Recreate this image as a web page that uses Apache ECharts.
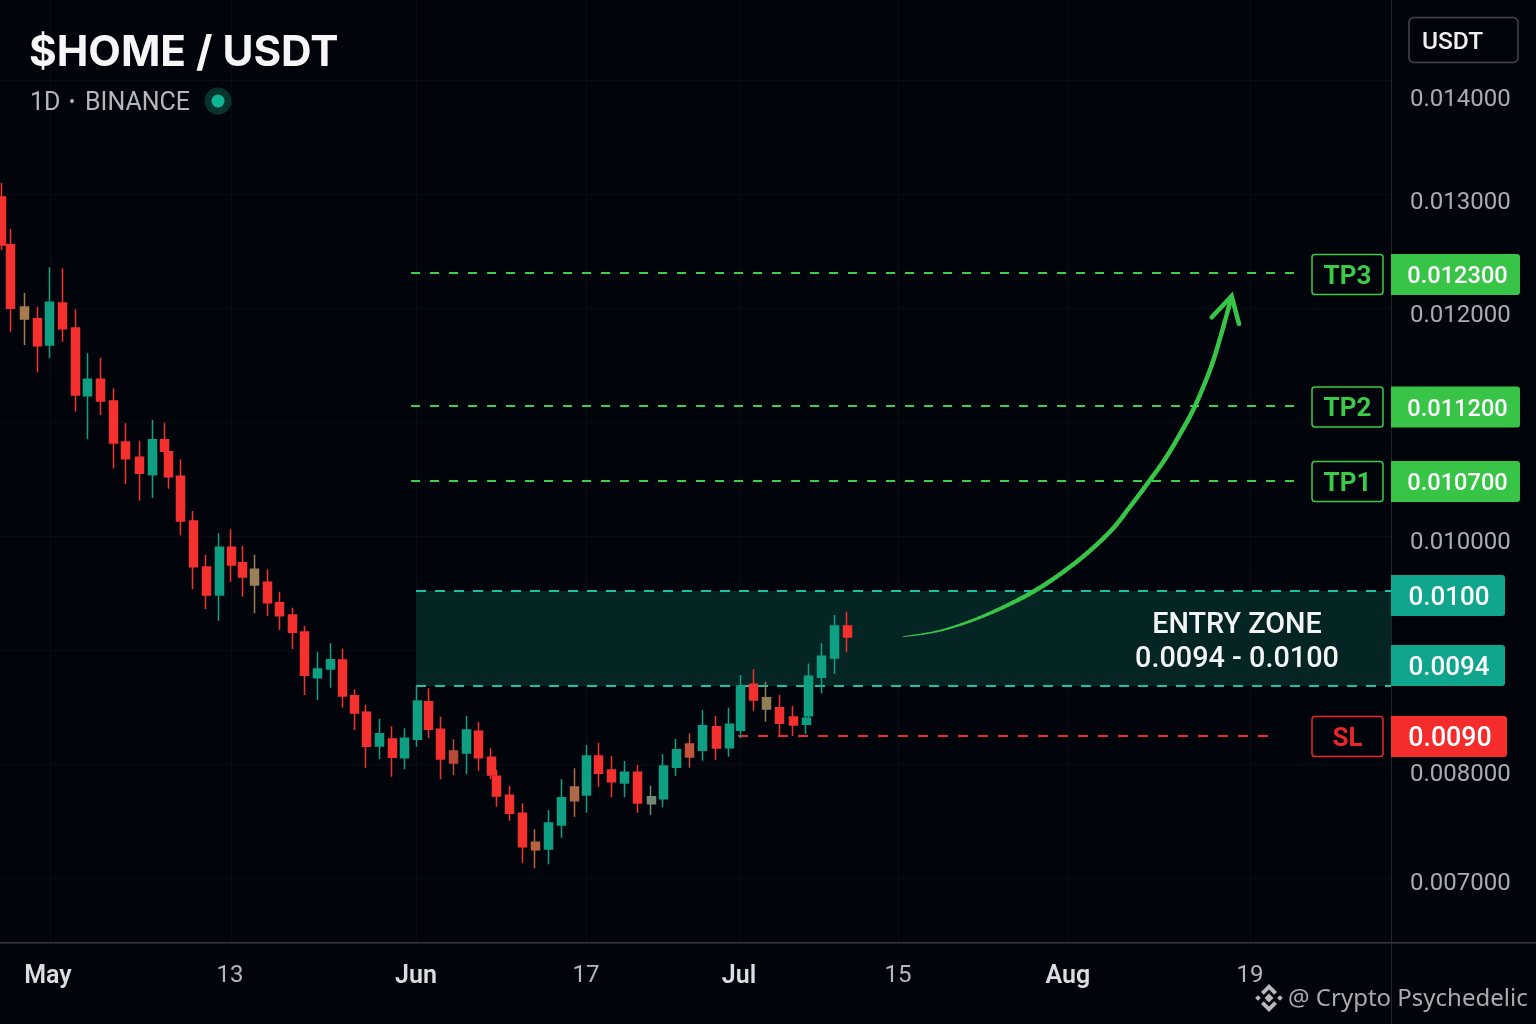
<!DOCTYPE html>
<html>
<head>
<meta charset="utf-8">
<style>html,body{margin:0;padding:0;background:#02040b;overflow:hidden}#c{width:1536px;height:1024px}</style>
<script src="https://cdn.jsdelivr.net/npm/echarts@6/dist/echarts.min.js"></script>
</head>
<body>
<div id="c"></div>
<script>
// Prices are in millionths of a USDT; x is a session number along the time axis.
const sessions = [0.12,0.84,1.91,2.93,3.92,4.92,5.91,6.90,7.90,8.89,9.88,10.93,11.98,12.94,13.23,14.17,15.14,16.16,17.18,18.12,19.04,20.00,21.00,21.96,22.96,23.90,24.89,25.91,26.88,27.82,28.71,29.75,30.75,31.74,32.71,33.62,34.56,35.55,36.57,37.55,38.53,38.98,39.98,41.00,41.98,43.04,44.05,45.07,46.02,46.98,47.98,49.02,50.02,51.06,52.02,53.04,54.06,55.11,56.16,57.18,58.09,59.08,60.08,61.15,62.20,63.22,63.43,64.47,65.49,66.45];
const opens = [12974,12555,12009,11906,11676,12044,11825,11231,11375,11184,10825,10691,10538,10845,10740,10524,10132,9728,9483,9901,9766,9708,9594,9415,9307,9158,8757,8834,8912,8599,8454,8158,8219,8055,8217,8547,8305,8114,8097,8287,8059,7892,7726,7568,7313,7255,7465,7798,7728,8070,7948,7834,7927,7714,7696,7971,8176,8120,8327,8143,8296,8699,8582,8494,8412,8348,8424,8761,8930,9211];
const closes = [12553,11998,11904,11670,12050,11819,11237,11375,11184,10816,10678,10550,10845,10743,10520,10132,9731,9483,9901,9746,9641,9570,9415,9301,9155,8778,8834,8915,8597,8448,8155,8266,8059,8226,8553,8305,8044,8009,8298,8055,7904,7719,7568,7275,7248,7483,7705,7678,8070,7919,7845,7927,7658,7652,7983,8126,8062,8336,8141,8348,8684,8562,8483,8357,8342,8401,8770,8945,9211,9114];
const lows = [12509,11792,11676,11436,11559,11705,11091,10848,11062,10594,10456,10310,10334,10719,10415,10006,9533,9360,9257,9599,9468,9322,9298,9176,9009,8605,8562,8669,8494,8298,7968,8041,7889,7954,8152,8226,7866,7904,7910,7942,7866,7626,7503,7135,7085,7120,7354,7538,7573,7801,7708,7708,7573,7553,7620,7895,7968,8029,8035,8064,8226,8468,8371,8255,8246,8263,8404,8620,8790,8980];
const highs = [13097,12693,12132,12012,12357,12348,11989,11603,11564,11296,10989,10836,11018,10994,10746,10673,10219,9834,10024,10059,9913,9836,9708,9512,9371,9213,8985,9059,9012,8655,8520,8398,8331,8313,8684,8664,8415,8217,8421,8369,8138,7948,7807,7655,7427,7597,7866,7962,8167,8187,8070,8027,7991,7810,8088,8219,8269,8474,8421,8494,8781,8831,8722,8605,8509,8430,8883,9059,9307,9336];
const mutedCandles = [2,21,37,44,47,53,56,62];

const yGridValues = [7000,8000,9000,10000,11000,12000,13000,14000];
const yTickLabels = ['0.014000','0.013000','0.012000','0.010000','0.008000','0.007000'];
const yTickAnchors = [13825,12922,11930,9939,7904,6948];
const xTickLabels = ['May','13','Jun','17','Jul','15','Aug','19'];
const xTickAnchors = [3.76,18.04,32.63,45.96,57.96,70.43,83.76,98.04];
const xGridValues = [3.92,18.12,32.68,45.96,58.09,70.43,83.76,98.04];

const tpNames = ['TP3','TP2','TP1'];
const tpTexts = ['0.012300','0.011200','0.010700'];
const tpLines = [12307,11141,10483];
const tpTags = [12294,11132,10478];
const entryTexts = ['0.0100','0.0094'];
const entryLines = [9518,8684];
const entryTags = [9478,8864];
const slName = 'SL';
const slText = '0.0090';
const slLine = 8246;
const slTag = 8241;
const entryCaption = ['ENTRY ZONE','0.0094 - 0.0100'];
const entryCaptionPrices = [9237,8939];
const entryCaptionSession = 97.02;
const axisEnd = 109.1;
const tpSpan = [32.24,101.96];
const slSpan = [57.88,99.84];
const entrySpan = [32.63,109.1];

const arrowSessions = [70.85,73.73,77.12,81.04,84.45,87.06,88.63,90.20,91.50,92.81,93.73,94.90,95.69,96.53];
const arrowPrices = [9117,9170,9298,9512,9775,10038,10257,10491,10696,10945,11141,11456,11734,12070];
const arrowHeadSessions = [95.04,96.60,97.18];
const arrowHeadPrices = [11919,12105,11860];

const BG='#02040b', RED='#f4312e', GREEN='#0f9f83', LIME='#38c447', LINE_LIME='#3ccf49', TEAL='#18c2a3', FONT='Roboto';
const P = v => v/1e6;
const muted = {2:'#a87a50',21:'#9a7f58',37:'#b74a3a',44:'#b8623f',47:'#ae6a46',53:'#6f8a70',56:'#c4503f',62:'#8f7f58'};

const candleData = sessions.map((s,i)=>{
  const item = {value:[s,P(opens[i]),P(closes[i]),P(lows[i]),P(highs[i])]};
  if (mutedCandles.includes(i)) {
    const c = muted[i];
    item.itemStyle = {color:c,color0:c,borderColor:c,borderColor0:c};
  }
  return item;
});

function hLine(name,span,val,color,width,dash){
  return {type:'line',name,silent:true,symbol:'none',z:3,animation:false,
    data:[[span[0],P(val)],[span[1],P(val)]],
    lineStyle:{color,width,type:dash}};
}

// The curved arrow: a spline through the read points, drawn with a growing stroke.
function renderArrow(params,api){
  if (params.dataIndex!==0) return null;
  const pts = arrowSessions.map((s,i)=>api.coord([s,P(arrowPrices[i])]));
  const kids = [];
  let prev = pts[0], travelled = 0;
  for (let i=0;i<pts.length-1;i++){
    const p0=pts[Math.max(i-1,0)],p1=pts[i],p2=pts[i+1],p3=pts[Math.min(i+2,pts.length-1)];
    for (let k=1;k<=10;k++){
      const t=k/10,t2=t*t,t3=t2*t;
      const q=[0,1].map(a=>0.5*(2*p1[a]+(p2[a]-p0[a])*t+(2*p0[a]-5*p1[a]+4*p2[a]-p3[a])*t2+(3*p1[a]-p0[a]-3*p2[a]+p3[a])*t3));
      travelled += Math.hypot(q[0]-prev[0],q[1]-prev[1]);
      const width = Math.min(4.4,0.8+travelled/38);
      kids.push({type:'line',shape:{x1:prev[0],y1:prev[1],x2:q[0],y2:q[1]},
        style:{stroke:LIME,lineWidth:width,lineCap:'round',fill:null}});
      prev=q;
    }
  }
  return {type:'group',children:kids};
}

const tagRows = [];
tpNames.forEach((n,i)=>tagRows.push({value:[axisEnd,P(tpTags[i])],label:n,text:tpTexts[i],color:LIME,w:129,tc:1457.5,fs:23.6}));
entryTexts.forEach((t,i)=>tagRows.push({value:[axisEnd,P(entryTags[i])],label:null,text:t,color:'#0fa68d',w:114,tc:1449,fs:26}));
tagRows.push({value:[axisEnd,P(slTag)],label:slName,text:slText,color:'#f42c2c',w:116,tc:1450,box:'#e8262c',fs:26.8});

function renderTag(params,api){
  const row = tagRows[params.dataIndex];
  const c = api.coord([api.value(0),api.value(1)]);
  const kids = [
    {type:'rect',shape:{x:c[0],y:c[1]-20.5,width:row.w,height:41,r:[0,3,3,0]},style:{fill:row.color}},
    {type:'text',x:row.tc,y:c[1]+3,style:{text:row.text,align:'center',verticalAlign:'middle',fill:'#ffffff',font:'500 '+row.fs+'px '+FONT}}
  ];
  if (row.label) {
    const b = row.box||'#3bcb48';
    kids.push({type:'rect',shape:{x:c[0]-79,y:c[1]-20,width:71,height:40,r:3},style:{fill:BG,stroke:b,lineWidth:1.5}});
    kids.push({type:'text',x:c[0]-43.5,y:c[1]+2.5,style:{text:row.label,align:'center',verticalAlign:'middle',fill:row.box||'#3bcb48',font:'700 26px '+FONT}});
  }
  return {type:'group',children:kids};
}

// Binance mark: five small polygons around one centre.
const logoShapes = [
  [[0,-4.5],[4.5,0],[0,4.5],[-4.5,0]],
  [[-11,-2.8],[-8.2,0],[-11,2.8],[-13.8,0]],
  [[11,-2.8],[13.8,0],[11,2.8],[8.2,0]],
  [[0,-14],[8,-6],[5.2,-3.2],[0,-8.4],[-5.2,-3.2],[-8,-6]],
  [[0,14],[8,6],[5.2,3.2],[0,8.4],[-5.2,3.2],[-8,6]]
];

const chart = echarts.init(document.getElementById('c'),null,{renderer:'canvas',width:1536,height:1024});
chart.setOption({
  animation:false,
  backgroundColor:BG,
  grid:{left:0,right:145,top:0,bottom:82,show:false},
  xAxis:{type:'value',min:0,max:axisEnd,
    axisLine:{show:false},
    axisTick:{show:false,customValues:xGridValues},
    splitLine:{show:true,lineStyle:{color:'#090c12',width:1}},
    axisLabel:{customValues:xTickAnchors,margin:22,hideOverlap:false,
      formatter:v=>{
        const t=xTickLabels[xTickAnchors.indexOf(v)];
        return /^[A-Z]/.test(t)?`{m|${t}}`:`{d|${t}}`;
      },
      rich:{
        m:{fontFamily:FONT,fontSize:25,fontWeight:600,color:'#dcdde0'},
        d:{fontFamily:FONT,fontSize:24,fontWeight:400,color:'#b4b6ba'}
      }}
  },
  yAxis:{type:'value',position:'right',min:0.006439,max:0.014702,scale:true,
    axisLine:{show:false},
    axisTick:{show:false,customValues:yGridValues.map(P)},
    splitLine:{show:true,lineStyle:{color:'#090c12',width:1}},
    axisLabel:{customValues:yTickAnchors.map(P),align:'left',margin:19,hideOverlap:false,
      fontFamily:FONT,fontSize:24,color:'#a9acb1',
      formatter:v=>yTickLabels[yTickAnchors.map(P).indexOf(v)]}
  },
  series:[
    {type:'line',name:'entry zone',silent:true,symbol:'none',z:1,animation:false,
      data:[],
      markArea:{silent:true,itemStyle:{color:'#052524'},
        data:[[{xAxis:entrySpan[0],yAxis:P(entryLines[0])},{xAxis:entrySpan[1],yAxis:P(entryLines[1])}]]}},
    hLine('entry top',entrySpan,entryLines[0],TEAL,2,[10,9]),
    hLine('entry bottom',entrySpan,entryLines[1],TEAL,2,[10,9]),
    hLine('TP3',tpSpan,tpLines[0],LINE_LIME,2,[9,10]),
    hLine('TP2',tpSpan,tpLines[1],LINE_LIME,2,[9,10]),
    hLine('TP1',tpSpan,tpLines[2],LINE_LIME,2,[9,10]),
    hLine('SL',slSpan,slLine,'#f02a2e',2,[10,10]),
    {type:'candlestick',name:'$HOME / USDT',z:4,barWidth:8.5,animation:false,
      encode:{x:0,y:[1,2,3,4]},
      itemStyle:{color:GREEN,color0:RED,borderColor:GREEN,borderColor0:RED,borderWidth:1.5},
      data:candleData},
    {type:'custom',name:'arrow',silent:true,z:6,animation:false,clip:false,
      data:arrowSessions.map((s,i)=>[s,P(arrowPrices[i])]),
      encode:{x:0,y:1},
      renderItem:renderArrow},
    {type:'line',silent:true,symbol:'none',z:7,animation:false,
      data:arrowHeadSessions.map((s,i)=>[s,P(arrowHeadPrices[i])]),
      lineStyle:{color:LIME,width:4.6,cap:'round',join:'miter'}},
    {type:'custom',name:'tags',silent:true,z:8,animation:false,clip:false,
      data:tagRows.map(r=>r.value),
      encode:{x:0,y:1},
      renderItem:renderTag},
    {type:'custom',name:'zone caption',silent:true,z:8,animation:false,clip:false,
      data:entryCaptionPrices.map(p=>[entryCaptionSession,P(p)]),
      encode:{x:0,y:1},
      renderItem:(params,api)=>{
        const c=api.coord([api.value(0),api.value(1)]);
        return {type:'text',x:c[0],y:c[1]+3,style:{text:entryCaption[params.dataIndex],align:'center',verticalAlign:'middle',fill:'#f4f5f6',font:'500 28.8px '+FONT}};
      }}
  ],
  graphic:[
    {type:'rect',silent:true,z:9,shape:{x:0,y:942,width:1536,height:1.5},style:{fill:'#35383d'}},
    {type:'rect',silent:true,z:2,shape:{x:1391,y:0,width:1,height:1024},style:{fill:'#22252b'}},
    {type:'text',silent:true,z:9,x:29,y:53,style:{text:'$HOME / USDT',verticalAlign:'middle',fill:'#f6f6f7',font:'700 42.3px Inter'}},
    {type:'text',silent:true,z:9,x:30,y:104,style:{text:'1D',verticalAlign:'middle',fill:'#b5b7bb',font:'400 25px '+FONT}},
    {type:'text',silent:true,z:9,x:72,y:103,style:{text:'•',align:'center',verticalAlign:'middle',fill:'#b5b7bb',font:'400 18px '+FONT}},
    {type:'text',silent:true,z:9,x:85,y:104,style:{text:'BINANCE',verticalAlign:'middle',fill:'#b5b7bb',font:'400 25px '+FONT}},
    {type:'circle',silent:true,z:9,shape:{cx:218,cy:101,r:13.5},style:{fill:'#083430'}},
    {type:'circle',silent:true,z:9,shape:{cx:218,cy:101,r:6.5},style:{fill:'#12b592'}},
    {type:'rect',silent:true,z:9,shape:{x:1409,y:17.5,width:109,height:45,r:5},style:{fill:BG,stroke:'#45474c',lineWidth:1.5}},
    {type:'text',silent:true,z:9,x:1422,y:43,style:{text:'USDT',verticalAlign:'middle',fill:'#eeeff0',font:'500 24.5px '+FONT}},
    ...logoShapes.map(pts=>({type:'polygon',silent:true,z:9,x:1269,y:998,shape:{points:pts},style:{fill:'#b9babd'}})),
    {type:'text',silent:true,z:9,x:1288,y:999,style:{text:'@ Crypto Psychedelic',verticalAlign:'middle',fill:'#a9abaf',font:'400 24px "Noto Sans"'}}
  ]
});
</script>
</body>
</html>
